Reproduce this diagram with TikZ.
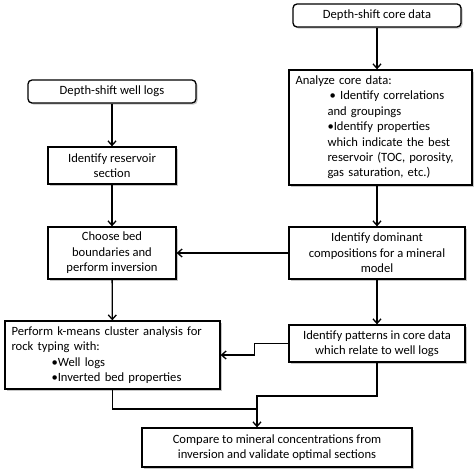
\documentclass[tikz,border=0pt]{standalone}
\usepackage{fontspec}
\setmainfont{Carlito}
\usepackage{tikz}
\usetikzlibrary{arrows.meta}
\usetikzlibrary{shadows}
\definecolor{shadowgray}{rgb}{0.78,0.78,0.78}
\tikzstyle{every node}=[font=\fontsize{12.6}{15.4}\selectfont]
\tikzstyle{stepbox}=[draw,line width=1.3pt,fill=white,inner sep=2pt,align=center,drop shadow={shadow xshift=1.6pt,shadow yshift=-1.6pt,fill=shadowgray,opacity=1}]
\tikzstyle{startbox}=[stepbox,rounded corners=4pt]
\tikzstyle{flow}=[line width=1.3pt,-{Straight Barb[length=4.5pt,width=8pt,line width=1.3pt]}]

\begin{document}
\begin{tikzpicture}[line cap=butt,line join=miter,x=1pt,y=-1pt]
            \useasboundingbox (0,0) rectangle (474,476);
            \node [startbox,minimum width=168pt,minimum height=23pt] (core) at (377,15.5) {Depth-shift core data};
            \node [startbox,minimum width=168pt,minimum height=23pt] (logs) at (112,91.5) {Depth-shift well logs};
            \node [stepbox,minimum width=183pt,minimum height=115pt,inner xsep=6pt,text width=170pt,align=left] (analyze) at (380.5,127.5) {Analyze core data:\\
                \hspace*{32pt}\,• Identify correlations\\
                \hspace*{32pt}and groupings\\
                \hspace*{32pt}•Identify properties\\
                \hspace*{32pt}which indicate the best\\
                \hspace*{32pt}reservoir (TOC, porosity,\\
                \hspace*{32pt}gas saturation, etc.)};
            \node [stepbox,minimum width=128pt,minimum height=37pt] (reservoir) at (112,165.5) {Identify reservoir\\section};
            \node [stepbox,minimum width=128pt,minimum height=52pt] (choose) at (112,253) {Choose bed\\boundaries and\\perform inversion};
            \node [stepbox,minimum width=176pt,minimum height=52pt] (dominant) at (377,253) {Identify dominant\\compositions for a mineral\\model};
            \node [stepbox,minimum width=215pt,minimum height=68pt,inner xsep=6pt,text width=202pt,align=left] (kmeans) at (112.5,355) {Perform k-means cluster analysis for\\
                rock typing with:\\
                \hspace*{40pt}•Well logs\\
                \hspace*{40pt}•Inverted bed properties};
            \node [stepbox,minimum width=176pt,minimum height=37pt] (patterns) at (377,343.5) {Identify patterns in core data\\which relate to well logs};
            \node [stepbox,minimum width=270pt,minimum height=39pt] (compare) at (277,447.5) {Compare to mineral concentrations from\\inversion and validate optimal sections};
            % joins below the two lower boxes
            \coordinate (merge) at (257,396);
            \coordinate (leftjoin) at (257,409);
            \draw [flow] (core) -- (core |- analyze.north);
            \draw [flow] (logs) -- (reservoir);
            \draw [flow] (reservoir) -- (choose);
            \draw [flow] (analyze.south -| dominant) -- (dominant);
            \draw [flow] (dominant) -- (choose);
            \draw [flow] (choose) -- (kmeans);
            \draw [flow] (dominant) -- (patterns);
            \draw [flow] (patterns.west) -- ++(-34,0) |- (kmeans.east);
            \draw [line width=1.3pt] (kmeans.south) |- (leftjoin);
            \draw [flow] (patterns.south) |- (merge) -- (merge |- compare.north);
            \end{tikzpicture}
\end{document}
